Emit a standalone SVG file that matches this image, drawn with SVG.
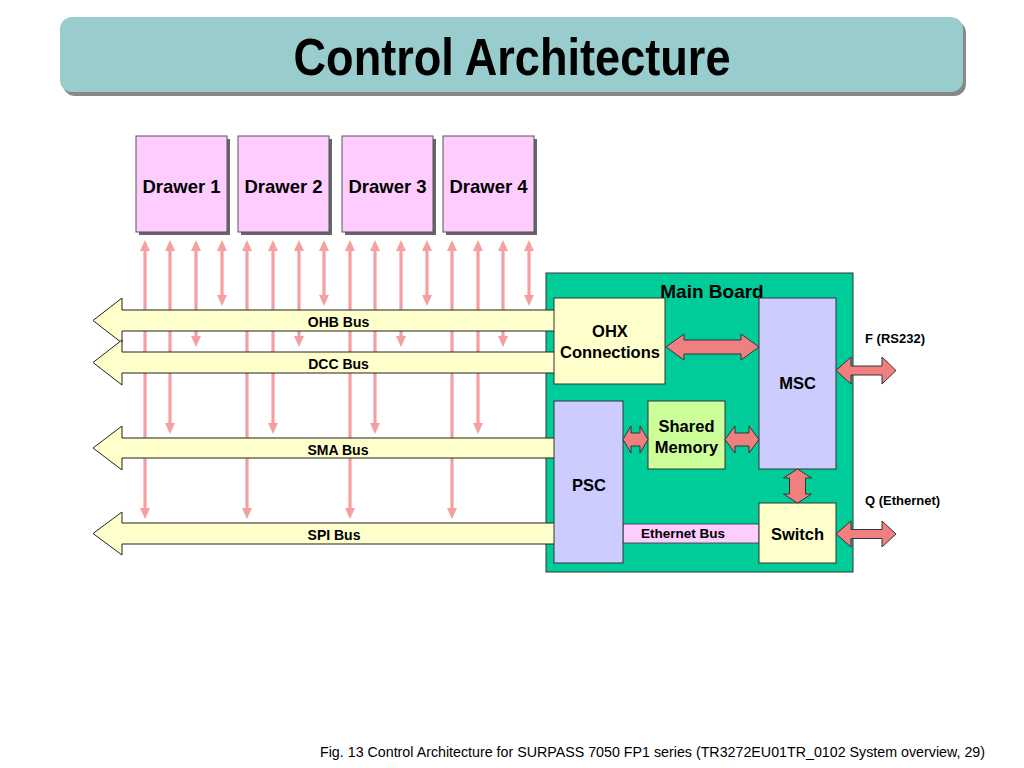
<svg xmlns="http://www.w3.org/2000/svg" width="1024" height="768" viewBox="0 0 1024 768">
<defs>
<style>
.t{font-family:"Liberation Sans",Arial,sans-serif;font-weight:bold;fill:#000;text-anchor:middle}
.box{stroke:#333;stroke-width:1}
.drawer{fill:#FFCCFF;stroke:#555;stroke-width:1}
.shadow{fill:#666}
.bus{fill:#FFFFCC;stroke:#222;stroke-width:1}
.vl{stroke:#F4A0A0;stroke-width:3.2;fill:none;marker-start:url(#ah);marker-end:url(#ah)}
.blk{fill:#F08080;stroke:#333;stroke-width:1}
</style>
<marker id="ah" markerUnits="userSpaceOnUse" markerWidth="11" markerHeight="11" refX="0" refY="5.5" orient="auto-start-reverse" viewBox="0 0 11 11">
<path d="M0,0.5 L11,5.5 L0,10.5 Z" fill="#F4A0A0"/>
</marker>
</defs>
<rect width="1024" height="768" fill="#fff"/>

<g id="title">
<rect x="63" y="21" width="903" height="75" rx="12" fill="#888"/>
<rect x="60" y="17" width="903" height="75" rx="12" fill="#99CCCC"/>
<text class="t" x="512" y="75" font-size="52" textLength="437" lengthAdjust="spacingAndGlyphs">Control Architecture</text>
</g>

<g id="connectors">
<path class="vl" d="M145,251 V508"/>
<path class="vl" d="M170,251 V423"/>
<path class="vl" d="M196,251 V336"/>
<path class="vl" d="M222,251 V295"/>
<path class="vl" d="M247,251 V508"/>
<path class="vl" d="M273,251 V423"/>
<path class="vl" d="M299,251 V336"/>
<path class="vl" d="M324,251 V295"/>
<path class="vl" d="M350,251 V508"/>
<path class="vl" d="M375,251 V423"/>
<path class="vl" d="M401,251 V336"/>
<path class="vl" d="M427,251 V295"/>
<path class="vl" d="M452,251 V508"/>
<path class="vl" d="M478,251 V423"/>
<path class="vl" d="M503,251 V336"/>
<path class="vl" d="M529,251 V295"/>
</g>

<g id="drawer1"><rect class="shadow" x="139" y="139" width="91" height="96"/><rect class="drawer" x="136" y="136" width="91" height="96"/><text class="t" x="181.5" y="193" font-size="18.5">Drawer 1</text></g>
<g id="drawer2"><rect class="shadow" x="241" y="139" width="91" height="96"/><rect class="drawer" x="238" y="136" width="91" height="96"/><text class="t" x="283.5" y="193" font-size="18.5">Drawer 2</text></g>
<g id="drawer3"><rect class="shadow" x="345" y="139" width="91" height="96"/><rect class="drawer" x="342" y="136" width="91" height="96"/><text class="t" x="387.5" y="193" font-size="18.5">Drawer 3</text></g>
<g id="drawer4"><rect class="shadow" x="446" y="139" width="91" height="96"/><rect class="drawer" x="443" y="136" width="91" height="96"/><text class="t" x="488.5" y="193" font-size="18.5">Drawer 4</text></g>

<g id="main-board">
<rect x="546" y="273" width="307" height="299" fill="#00CC99" stroke="#333" stroke-width="1"/>
<text class="t" x="712" y="298" font-size="19">Main Board</text>
</g>

<g id="ohb-bus"><path class="bus" d="M556,310 L122,310 L122,298 L93,320.5 L122,343 L122,331 L556,331 Z"/><text class="t" x="338.5" y="327" font-size="14">OHB Bus</text></g>
<g id="dcc-bus"><path class="bus" d="M556,352 L122,352 L122,340 L93,362.5 L122,385 L122,373 L556,373 Z"/><text class="t" x="338.5" y="369" font-size="14">DCC Bus</text></g>
<g id="sma-bus"><path class="bus" d="M556,438 L122,438 L122,426 L93,448 L122,470 L122,458 L556,458 Z"/><text class="t" x="338" y="455" font-size="14">SMA Bus</text></g>
<g id="spi-bus"><path class="bus" d="M556,523 L122,523 L122,512 L93,533.5 L122,555 L122,544 L556,544 Z"/><text class="t" x="334" y="540" font-size="14">SPI Bus</text></g>

<g id="ethernet-bus"><rect x="623" y="524" width="136" height="19" fill="#FFCCFF" stroke="#333" stroke-width="0.8"/><text class="t" x="683" y="538" font-size="13.5">Ethernet Bus</text></g>

<g id="ohx"><rect class="box" x="554" y="298" width="111" height="86" fill="#FFFFCC"/><text class="t" x="610" y="337" font-size="16.5">OHX</text><text class="t" x="610" y="358" font-size="16.5">Connections</text></g>
<g id="msc"><rect class="box" x="759" y="298" width="77" height="171" fill="#CCCCFF"/><text class="t" x="797.5" y="389" font-size="16.5">MSC</text></g>
<g id="psc"><rect class="box" x="554" y="401" width="69" height="162" fill="#CCCCFF"/><text class="t" x="589" y="491" font-size="16.5">PSC</text></g>
<g id="shared-memory"><rect class="box" x="648" y="401" width="77" height="68" fill="#CCFF99"/><text class="t" x="686.5" y="432" font-size="16.5">Shared</text><text class="t" x="686.5" y="453" font-size="16.5">Memory</text></g>
<g id="switch"><rect class="box" x="759" y="503" width="77" height="60" fill="#FFFFCC"/><text class="t" x="797.5" y="540" font-size="16.5">Switch</text></g>

<g id="block-arrows">
<path class="blk" d="M666,347 L684,334 L684,340 L741,340 L741,334 L759,347 L741,360 L741,354 L684,354 L684,360 Z"/>
<path class="blk" d="M623,439.5 L631,426 L631,433 L640,433 L640,426 L648,439.5 L640,453 L640,446 L631,446 L631,453 Z"/>
<path class="blk" d="M725,439.5 L735,426 L735,433 L749,433 L749,426 L759,439.5 L749,453 L749,446 L735,446 L735,453 Z"/>
<path class="blk" d="M797.5,469 L811.5,478 L805.5,478 L805.5,494 L811.5,494 L797.5,503 L783.5,494 L789.5,494 L789.5,478 L783.5,478 Z"/>
<path class="blk" d="M836,370.5 L851,357 L851,366 L882,366 L882,357 L896,370.5 L882,384 L882,375 L851,375 L851,384 Z"/>
<path class="blk" d="M836,534 L851,521 L851,529.5 L882,529.5 L882,521 L896,534 L882,547 L882,538.5 L851,538.5 L851,547 Z"/>
</g>

<g id="labels">
<text class="t" x="865" y="343" font-size="13" style="text-anchor:start">F (RS232)</text>
<text class="t" x="865" y="505" font-size="13" style="text-anchor:start">Q (Ethernet)</text>
</g>

<text x="320" y="757" font-family="Liberation Sans, Arial, sans-serif" font-size="14" textLength="665" lengthAdjust="spacingAndGlyphs" fill="#000">Fig. 13 Control Architecture for SURPASS 7050 FP1 series (TR3272EU01TR_0102 System overview, 29)</text>
</svg>
